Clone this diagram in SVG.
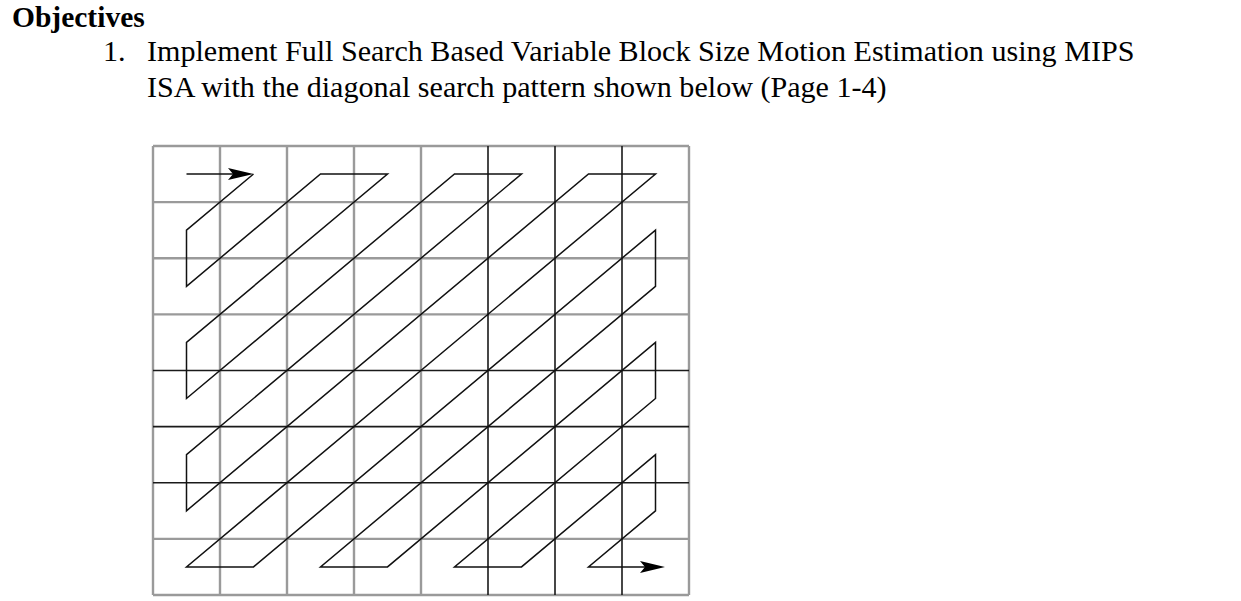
<svg xmlns="http://www.w3.org/2000/svg" width="1241" height="601" viewBox="0 0 1241 601">
<style>
.t{font-family:"Liberation Serif","Times New Roman",serif;fill:#000;font-size:30.1px}
.b{font-weight:bold;font-size:29.5px}
.g{stroke:#9a9a9a;stroke-width:2.4;fill:none}
.k{stroke:#1a1a1a;stroke-width:1.6;fill:none}
.p{stroke:#111;stroke-width:1.5;fill:none;stroke-linejoin:miter}
.ah{fill:#000}
</style>
<rect width="1241" height="601" fill="#fff"/>
<g id="text">
<text class="t b" x="12" y="27">Objectives</text>
<text class="t" x="103" y="61">1.</text>
<text class="t" x="147" y="61">Implement Full Search Based Variable Block Size Motion Estimation using MIPS</text>
<text class="t" x="147" y="97">ISA with the diagonal search pattern shown below (Page 1-4)</text>
</g>
<g id="grid">
<path class="g" d="M153 146V595M220 146V595M287 146V595M354 146V595M421 146V595M689 146V595M153 146H689M153 202.1H689M153 258.3H689M153 314.4H689M153 538.9H689M153 595H689"/>
<path class="k" d="M488 146V595M555 146V595M622 146V595M153 370.5H689M153 426.6H689M153 482.8H689"/>
</g>
<g id="connectors">
<path class="p" d="M186.5 174H240"/>
<polygon class="ah" points="253.5,174 228,168 233,174 228,180"/>
<path class="p" d="M253.5 174L186.5 230.1V286.3L320.5 174H387.5L186.5 342.4V398.5L454.5 174H521.5L186.5 454.6V510.8L588.5 174H655.5L186.5 566.9H253.5L655.5 230.1V286.3L320.5 566.9H387.5L655.5 342.4V398.5L454.5 566.9H521.5L655.5 454.6V510.8L588.5 566.9H650"/>
<polygon class="ah" points="665,566.9 640,561 645,566.9 640,573"/>
</g>
</svg>
